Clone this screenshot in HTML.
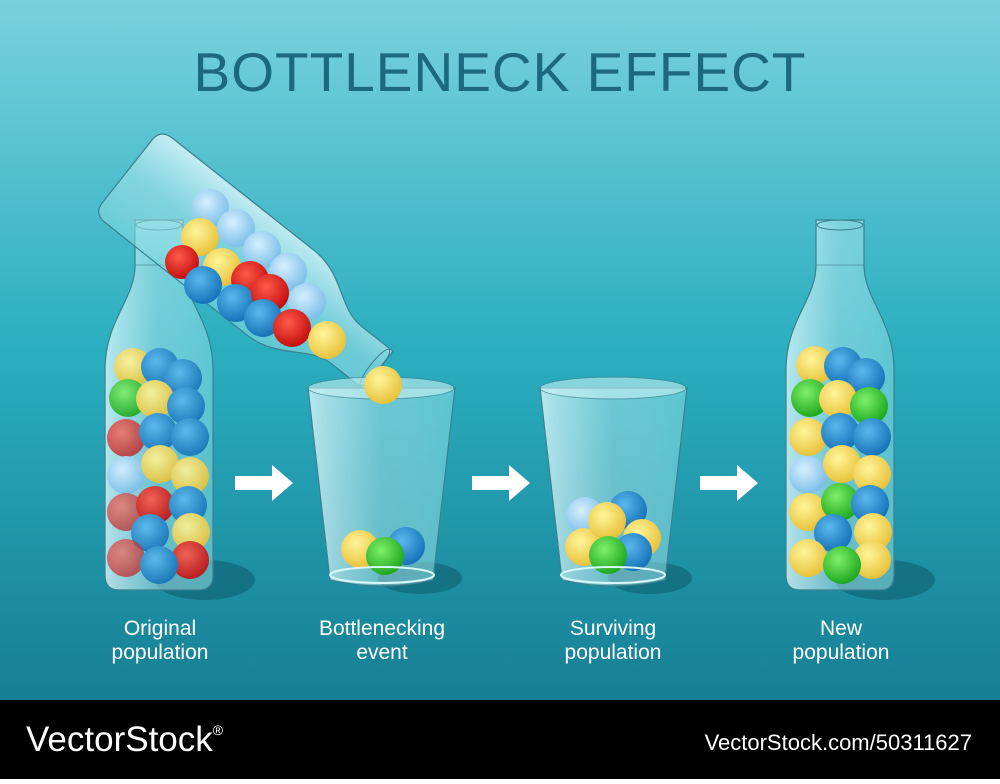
<!DOCTYPE html>
<html><head><meta charset="utf-8"><style>
html,body{margin:0;padding:0}
body{width:1000px;height:779px;overflow:hidden;font-family:"Liberation Sans",sans-serif}
</style></head><body>
<svg width="1000" height="779" viewBox="0 0 1000 779" xmlns="http://www.w3.org/2000/svg">
<defs>
<linearGradient id="bg" x1="0" y1="0" x2="0" y2="1">
<stop offset="0" stop-color="#7ad1dd"/><stop offset="0.5" stop-color="#2aaebf"/><stop offset="1" stop-color="#177f94"/></linearGradient>
<linearGradient id="glass" x1="0" y1="0" x2="1" y2="0">
<stop offset="0" stop-color="#e8fbff" stop-opacity="0.75"/><stop offset="0.5" stop-color="#bfeef3" stop-opacity="0.45"/><stop offset="1" stop-color="#7fd9e0" stop-opacity="0.6"/></linearGradient>
<radialGradient id="b" cx="0.4" cy="0.35" r="0.65"><stop offset="0" stop-color="#5bb8ee"/><stop offset="1" stop-color="#1673b8"/></radialGradient>
<radialGradient id="y" cx="0.4" cy="0.35" r="0.65"><stop offset="0" stop-color="#fff59a"/><stop offset="1" stop-color="#e8c23a"/></radialGradient>
<radialGradient id="r" cx="0.4" cy="0.35" r="0.65"><stop offset="0" stop-color="#ff5a4a"/><stop offset="1" stop-color="#c40f0f"/></radialGradient>
<radialGradient id="g" cx="0.4" cy="0.35" r="0.65"><stop offset="0" stop-color="#7ff06a"/><stop offset="1" stop-color="#1fa81f"/></radialGradient>
<radialGradient id="l" cx="0.4" cy="0.35" r="0.65"><stop offset="0" stop-color="#d6efff"/><stop offset="1" stop-color="#7cbfe8"/></radialGradient>
<path id="bottle" d="M-24,0 L24,0 L24,45 C24,80 54,100 54,150 L54,355 Q54,370 40,370 L-40,370 Q-54,370 -54,355 L-54,150 C-54,100 -24,80 -24,45 Z"/>
<path id="tbottle" d="M-24,0 L24,0 L24,40 C24,70 54,85 54,125 L54,305 Q54,320 40,320 L-40,320 Q-54,320 -54,305 L-54,125 C-54,85 -24,70 -24,40 Z"/>
</defs>
<rect width="1000" height="700" fill="url(#bg)"/>
<text x="500" y="91" text-anchor="middle" font-size="55" fill="#1b687f" letter-spacing="1">BOTTLENECK EFFECT</text>

<ellipse cx="205" cy="580" rx="50" ry="20" fill="#0d5f70" opacity="0.6"/>
<ellipse cx="420" cy="578" rx="42" ry="16" fill="#0d5f70" opacity="0.6"/>
<ellipse cx="650" cy="578" rx="42" ry="16" fill="#0d5f70" opacity="0.6"/>
<ellipse cx="885" cy="580" rx="50" ry="20" fill="#0d5f70" opacity="0.6"/>

<g transform="translate(159,220)">
<use href="#bottle" fill="url(#glass)" stroke="#3c7f8e" stroke-width="1.2"/>
<ellipse cx="0" cy="5" rx="23" ry="5" fill="none" stroke="#3c7f8e"/>
<line x1="-24" y1="45" x2="24" y2="45" stroke="#3c7f8e" opacity="0.6"/>
</g>
<g opacity="0.9">
<circle cx="133" cy="367" r="19" fill="url(#y)"/><circle cx="160" cy="367" r="19" fill="url(#b)"/><circle cx="183" cy="378" r="19" fill="url(#b)"/>
<circle cx="128" cy="398" r="19" fill="url(#g)"/><circle cx="155" cy="399" r="19" fill="url(#y)"/><circle cx="186" cy="406" r="19" fill="url(#b)"/>
<circle cx="126" cy="438" r="19" fill="url(#r)" opacity="0.8"/><circle cx="158" cy="432" r="19" fill="url(#b)"/><circle cx="190" cy="437" r="19" fill="url(#b)"/>
<circle cx="126" cy="475" r="19" fill="url(#l)"/><circle cx="160" cy="464" r="19" fill="url(#y)"/><circle cx="190" cy="476" r="19" fill="url(#y)"/>
<circle cx="126" cy="512" r="19" fill="url(#r)" opacity="0.7"/><circle cx="155" cy="505" r="19" fill="url(#r)"/><circle cx="188" cy="505" r="19" fill="url(#b)"/>
<circle cx="150" cy="533" r="19" fill="url(#b)"/><circle cx="191" cy="532" r="19" fill="url(#y)"/>
<circle cx="126" cy="558" r="19" fill="url(#r)" opacity="0.7"/><circle cx="190" cy="560" r="19" fill="url(#r)"/><circle cx="159" cy="565" r="19" fill="url(#b)"/>
</g>

<g transform="translate(378,370) rotate(128.4)">
<use href="#tbottle" fill="url(#glass)" stroke="#3c7f8e" stroke-width="1.2"/>
<ellipse cx="0" cy="4" rx="23" ry="5" fill="none" stroke="#3c7f8e"/>
</g>
<circle cx="210" cy="208" r="19" fill="url(#l)"/><circle cx="200" cy="237" r="19" fill="url(#y)"/><circle cx="236" cy="228" r="19" fill="url(#l)"/>
<circle cx="182" cy="262" r="17" fill="url(#r)"/><circle cx="262" cy="250" r="19" fill="url(#l)"/><circle cx="222" cy="267" r="19" fill="url(#y)"/>
<circle cx="288" cy="272" r="19" fill="url(#l)"/><circle cx="203" cy="285" r="19" fill="url(#b)"/><circle cx="250" cy="280" r="19" fill="url(#r)"/>
<circle cx="236" cy="303" r="19" fill="url(#b)"/><circle cx="270" cy="293" r="19" fill="url(#r)"/><circle cx="307" cy="302" r="19" fill="url(#l)"/>
<circle cx="263" cy="318" r="19" fill="url(#b)"/><circle cx="292" cy="328" r="19" fill="url(#r)"/><circle cx="327" cy="340" r="19" fill="url(#y)"/>

<g fill="#fff">
<path d="M235,476 h37 v-11 l21,18 l-21,18 v-11 h-37z"/>
<path d="M472,476 h37 v-11 l21,18 l-21,18 v-11 h-37z"/>
<path d="M700,476 h37 v-11 l21,18 l-21,18 v-11 h-37z"/>
</g>

<path d="M308,388 L455,388 L433,580 Q382,592 330,580 Z" fill="url(#glass)" stroke="#3c7f8e" stroke-width="1.2"/>
<ellipse cx="381" cy="388" rx="73" ry="11" fill="#c9f1f5" opacity="0.6" stroke="#3c7f8e"/>
<circle cx="383" cy="385" r="19" fill="url(#y)"/>
<circle cx="360" cy="549" r="19" fill="url(#y)"/><circle cx="406" cy="546" r="19" fill="url(#b)"/><circle cx="385" cy="556" r="19" fill="url(#g)"/>
<ellipse cx="382" cy="575" rx="52" ry="8" fill="none" stroke="#d8f8fb" stroke-width="2"/>

<path d="M540,388 L687,388 L665,580 Q613,592 562,580 Z" fill="url(#glass)" stroke="#3c7f8e" stroke-width="1.2"/>
<ellipse cx="613" cy="388" rx="73" ry="11" fill="#c9f1f5" opacity="0.6" stroke="#3c7f8e"/>
<circle cx="585" cy="516" r="19" fill="url(#l)"/><circle cx="628" cy="510" r="19" fill="url(#b)"/><circle cx="642" cy="538" r="19" fill="url(#y)"/>
<circle cx="584" cy="547" r="19" fill="url(#y)"/><circle cx="633" cy="552" r="19" fill="url(#b)"/><circle cx="607" cy="521" r="19" fill="url(#y)"/><circle cx="608" cy="555" r="19" fill="url(#g)"/>
<ellipse cx="613" cy="575" rx="52" ry="8" fill="none" stroke="#d8f8fb" stroke-width="2"/>

<g transform="translate(840,220)">
<use href="#bottle" fill="url(#glass)" stroke="#3c7f8e" stroke-width="1.2"/>
<ellipse cx="0" cy="5" rx="23" ry="5" fill="none" stroke="#3c7f8e"/>
<line x1="-24" y1="45" x2="24" y2="45" stroke="#3c7f8e" opacity="0.6"/>
</g>
<circle cx="815" cy="365" r="19" fill="url(#y)"/><circle cx="843" cy="366" r="19" fill="url(#b)"/><circle cx="866" cy="377" r="19" fill="url(#b)"/>
<circle cx="810" cy="398" r="19" fill="url(#g)"/><circle cx="838" cy="399" r="19" fill="url(#y)"/><circle cx="869" cy="406" r="19" fill="url(#g)"/>
<circle cx="808" cy="437" r="19" fill="url(#y)"/><circle cx="840" cy="432" r="19" fill="url(#b)"/><circle cx="872" cy="437" r="19" fill="url(#b)"/>
<circle cx="808" cy="475" r="19" fill="url(#l)"/><circle cx="842" cy="464" r="19" fill="url(#y)"/><circle cx="872" cy="474" r="19" fill="url(#y)"/>
<circle cx="808" cy="512" r="19" fill="url(#y)"/><circle cx="840" cy="502" r="19" fill="url(#g)"/><circle cx="870" cy="504" r="19" fill="url(#b)"/>
<circle cx="833" cy="533" r="19" fill="url(#b)"/><circle cx="873" cy="532" r="19" fill="url(#y)"/>
<circle cx="808" cy="558" r="19" fill="url(#y)"/><circle cx="872" cy="560" r="19" fill="url(#y)"/><circle cx="842" cy="565" r="19" fill="url(#g)"/>

<g fill="#fff" font-size="21" text-anchor="middle">
<text x="160" y="635">Original</text><text x="160" y="659">population</text>
<text x="382" y="635">Bottlenecking</text><text x="382" y="659">event</text>
<text x="613" y="635">Surviving</text><text x="613" y="659">population</text>
<text x="841" y="635">New</text><text x="841" y="659">population</text>
</g>

<rect y="700" width="1000" height="79" fill="#000"/>
<text x="26" y="751" fill="#fff" font-size="35">VectorStock<tspan font-size="14" dy="-16">®</tspan></text>
<text x="972" y="750" fill="#fff" font-size="22" text-anchor="end">VectorStock.com/50311627</text>
</svg>
</body></html>
